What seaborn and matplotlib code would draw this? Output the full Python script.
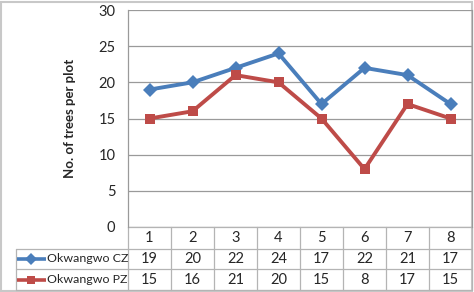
import matplotlib
matplotlib.use("Agg")
import matplotlib.pyplot as plt
import matplotlib.transforms as mtransforms
import seaborn as sns
import pandas as pd

categories = [1, 2, 3, 4, 5, 6, 7, 8]
series_names = ["Okwangwo CZ", "Okwangwo PZ"]
cz_values = [19, 20, 22, 24, 17, 22, 21, 17]
pz_values = [15, 16, 21, 20, 15, 8, 17, 15]
y_ticks = [0, 5, 10, 15, 20, 25, 30]
y_label = "No. of trees per plot"

colors = {"Okwangwo CZ": "#4A7EBB", "Okwangwo PZ": "#BE4B48"}
markers = {"Okwangwo CZ": "D", "Okwangwo PZ": "s"}

sns.set_theme(style="white")
plt.rcParams["font.family"] = ["Lato", "DejaVu Sans"]

df = pd.DataFrame({
    "cat": categories * 2,
    "value": cz_values + pz_values,
    "series": [series_names[0]] * len(categories) + [series_names[1]] * len(categories),
})

W, H = 474, 292
fig = plt.figure(figsize=(W / 100, H / 100), dpi=100)
fig.patch.set_facecolor("white")

# overlay axes in pixel coordinates (y downwards)
ov = fig.add_axes([0, 0, 1, 1])
ov.set_xlim(0, W)
ov.set_ylim(H, 0)
ov.axis("off")
ov.set_zorder(0)

L, R, T, B = 128, 472, 10, 227
ax = fig.add_axes([L / W, (H - B) / H, (R - L) / W, (B - T) / H])
ax.set_zorder(2)
ax.patch.set_alpha(0)

sns.lineplot(data=df, x="cat", y="value", hue="series", style="series",
             markers=markers, dashes=False, palette=colors, ax=ax,
             linewidth=2.8, markersize=7.5, markeredgewidth=0, legend=False)
ax.set_xlim(0.5, 8.5)
ax.set_ylim(0, 30)
ax.set_yticks(y_ticks)
ax.set_yticklabels([str(t) for t in y_ticks], fontsize=10.5)
ax.tick_params(axis="y", length=0, pad=9)
ax.set_xticks([])
ax.set_xlabel("")
ax.set_ylabel(y_label, fontsize=9.5, fontweight="bold", labelpad=16)
ax.grid(axis="y", color="#9A9A9A", linewidth=0.9)
ax.set_axisbelow(True)
for s in ["top", "bottom"]:
    ax.spines[s].set_visible(False)
for s in ["left", "right"]:
    ax.spines[s].set_color("#9A9A9A")
    ax.spines[s].set_linewidth(0.9)

# outer frame
ov.add_patch(plt.Rectangle((1.5, 1.5), W - 3, H - 3, fill=False, edgecolor="#C8C8C8", linewidth=1.5))

# data table
trans = mtransforms.blended_transform_factory(ax.transData, ov.transData)
gc = "#B4B4B4"
rows_y = [227, 249, 269, 290]
key_left = 16
for y in rows_y:
    x0 = L if y == 227 else key_left
    ov.plot([x0, R], [y, y], color=gc, lw=0.9)
ov.plot([key_left, key_left], [249, 290], color=gc, lw=0.9)
for i in range(len(categories) + 1):
    ax_x = 0.5 + i
    ov.plot([ax_x, ax_x], [227, 290], color=gc, lw=0.9, transform=trans)

row_vals = [categories, cz_values, pz_values]
row_centers = [(rows_y[k] + rows_y[k + 1]) / 2 for k in range(3)]
for k, vals in enumerate(row_vals):
    for c, v in zip(categories, vals):
        ov.text(c, row_centers[k], str(v), transform=trans, ha="center", va="center", fontsize=10.5)

for k, name in enumerate(series_names):
    yc = row_centers[k + 1]
    ov.plot([17, 46], [yc, yc], color=colors[name], lw=2.6, solid_capstyle="butt")
    ov.plot([31], [yc], marker=markers[name], color=colors[name], markersize=6, markeredgewidth=0)
    ov.text(47, yc, name, ha="left", va="center", fontsize=8.9)

fig.savefig("out.png", dpi=100, facecolor="white")
